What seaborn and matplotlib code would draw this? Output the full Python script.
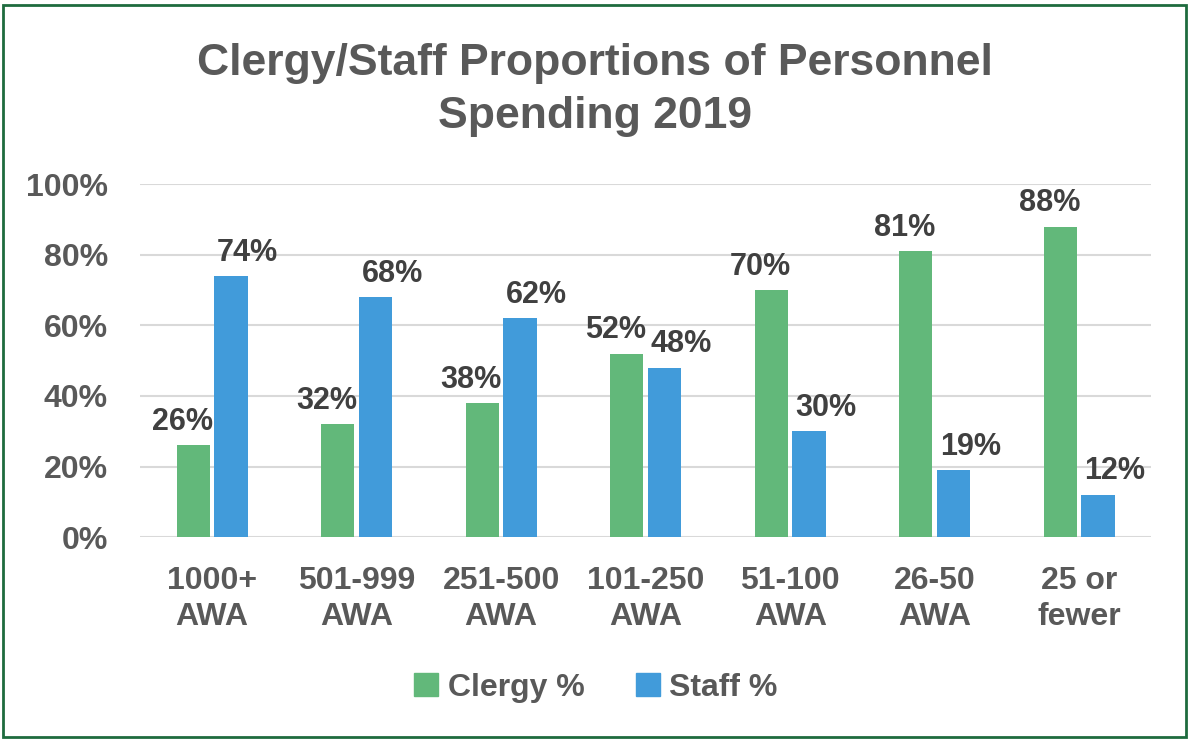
import numpy as np
import pandas as pd
import matplotlib
matplotlib.use("Agg")
import matplotlib.pyplot as plt
import seaborn as sns
from matplotlib.patches import Rectangle

categories = ["1000+\nAWA", "501-999\nAWA", "251-500\nAWA", "101-250\nAWA",
              "51-100\nAWA", "26-50\nAWA", "25 or\nfewer"]
clergy_pct = [26, 32, 38, 52, 70, 81, 88]
staff_pct = [74, 68, 62, 48, 30, 19, 12]
series_names = ["Clergy %", "Staff %"]

green = "#62B87A"
blue = "#419BDA"
text_grey = "#595959"
label_grey = "#404040"

df = pd.DataFrame({
    "group": categories * 2,
    "series": [series_names[0]] * len(categories) + [series_names[1]] * len(categories),
    "value": np.array(clergy_pct + staff_pct) / 100.0,
})

sns.set_style("white")
plt.rcParams["font.family"] = ["Liberation Sans", "DejaVu Sans"]
plt.rcParams["font.weight"] = "bold"

fig, ax = plt.subplots(figsize=(11.92, 7.46), dpi=100)
fig.subplots_adjust(left=0.1174, right=0.966, bottom=0.280, top=0.753)

sns.barplot(data=df, x="group", y="value", hue="series", order=categories,
            hue_order=series_names, palette=[green, blue], width=0.52, gap=0.12,
            saturation=1, ax=ax, legend=True, edgecolor="none")

ax.set_ylim(0, 1.0)
ax.set_xlim(-0.5, len(categories) - 0.5)
ax.set_yticks(np.arange(0, 1.01, 0.2))
ax.set_yticklabels([f"{int(round(v * 100))}%" for v in np.arange(0, 1.01, 0.2)])
ax.yaxis.grid(True, color="#D9D9D9", linewidth=1.5)
ax.set_axisbelow(True)
for s in ax.spines.values():
    s.set_visible(False)
ax.tick_params(axis="both", length=0, labelsize=23, labelcolor=text_grey)
ax.tick_params(axis="y", pad=23)
ax.tick_params(axis="x", pad=21)
for t in ax.get_xticklabels():
    t.set_linespacing(1.27)
    t.set_fontweight("bold")
for t in ax.get_yticklabels():
    t.set_fontweight("bold")
ax.set_xlabel("")
ax.set_ylabel("")

# value labels
nudges = {0: -8, 1: 12}
for i, cont in enumerate(ax.containers):
    for bar in cont:
        h = bar.get_height()
        ax.annotate(f"{int(round(h * 100))}%",
                    (bar.get_x() + bar.get_width() / 2, h),
                    xytext=(nudges[i], 11), textcoords="offset points",
                    ha="center", va="baseline", fontsize=22,
                    fontweight="bold", color=label_grey, annotation_clip=False)

ax.legend_.remove()
handles = [Rectangle((0, 0), 1, 1, color=green), Rectangle((0, 0), 1, 1, color=blue)]
leg = fig.legend(handles, series_names, loc="center", bbox_to_anchor=(0.5, 0.078),
                 ncol=2, frameon=False, handlelength=0.75, handleheight=0.75,
                 handletextpad=0.3, columnspacing=1.6,
                 prop={"size": 23, "weight": "bold"})
for t in leg.get_texts():
    t.set_color(text_grey)

fig.text(0.499, 0.879, "Clergy/Staff Proportions of Personnel\nSpending 2019",
         ha="center", va="center", fontsize=32, fontweight="bold",
         color=text_grey, linespacing=1.37)

fig.patches.append(Rectangle((3 / 1192, 1 - 737 / 746), 1183 / 1192, 732 / 746,
                             transform=fig.transFigure, fill=False,
                             edgecolor="#1E6B3E", linewidth=2, zorder=10))

fig.savefig("out.png", dpi=100, facecolor="white")
